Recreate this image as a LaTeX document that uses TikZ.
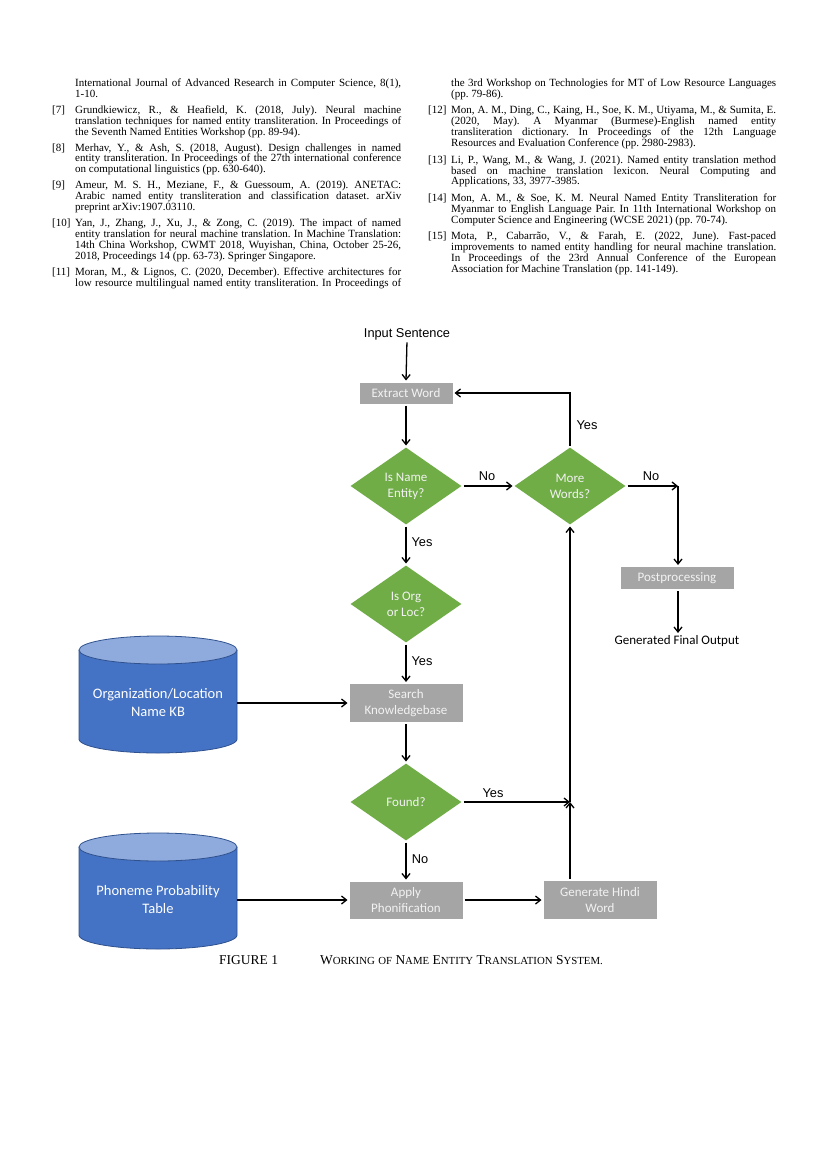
\documentclass[tikz,border=0pt]{standalone}
\usepackage{fontspec}
\setmainfont{Liberation Serif}
\newfontfamily\arialf{Liberation Sans}
\newfontfamily\calibf{Carlito}
\usetikzlibrary{shapes.geometric,arrows.meta}

\definecolor{procgray}{HTML}{A5A5A5}
\definecolor{boxtxt}{HTML}{F2F2F2}
\definecolor{decgreen}{HTML}{70AD47}
\definecolor{dbblue}{HTML}{4472C4}
\definecolor{dbtop}{HTML}{8FAADC}
\definecolor{dbedge}{HTML}{2F528F}

\newcommand\jlL[1]{\makebox[326pt][s]{#1}}
\newcommand\jlR[1]{\makebox[325pt][s]{#1}}
\newcommand\rlab[1]{\llap{\makebox[23pt][l]{#1}}}
\newcommand\smc[1]{{\fontsize{10.8}{12}\selectfont #1}}
\renewcommand\arraystretch{1}

\begin{document}
\begin{tikzpicture}[x=1pt,y=-1pt,
  refcol/.style={anchor=base west, inner sep=0, font=\fontsize{11}{10.9}\selectfont\frenchspacing},
  proc/.style={rectangle, fill=procgray, text=boxtxt, font=\calibf\fontsize{13}{15.5}\selectfont, align=center, inner sep=0, outer sep=2pt, minimum width=113pt},
  dec/.style={diamond, fill=decgreen, text=boxtxt, font=\calibf\fontsize{13}{16}\selectfont, align=center, inner sep=0, outer sep=1.5pt, minimum width=112pt, minimum height=78pt},
  dbtext/.style={font=\calibf\fontsize{14.5}{18}\selectfont, text=white, align=center, inner sep=0, outer sep=0, minimum width=158pt},
  lab/.style={font=\arialf\fontsize{12.8}{14}\selectfont, inner sep=0},
  arr/.style={-{Straight Barb[length=5pt,width=8pt]}, line width=1.3pt},
  dbbody/.style={fill=dbblue, draw=dbedge, line width=0.8pt},
  dbcap/.style={fill=dbtop, draw=dbedge, line width=0.8pt}]
\useasboundingbox[fill=white] (0,0) rectangle (827,1169);

% ---------------- reference columns ----------------
\node[refcol, font=\fontsize{11}{10.8}\selectfont\frenchspacing] (colL) at (75,86.5) {\begin{tabular}[t]{@{}l@{}}
\jlL{International Journal of Advanced Research in Computer Science, 8(1),}\\
1-10.\\[5pt]
\rlab{[7]}\jlL{Grundkiewicz, R., \& Heafield, K. (2018, July). Neural machine}\\
\jlL{translation techniques for named entity transliteration. In Proceedings of}\\
the Seventh Named Entities Workshop (pp. 89-94).\\[5pt]
\rlab{[8]}\jlL{Merhav, Y., \& Ash, S. (2018, August). Design challenges in named}\\
\jlL{entity transliteration. In Proceedings of the 27th international conference}\\
on computational linguistics (pp. 630-640).\\[5pt]
\rlab{[9]}\jlL{Ameur, M. S. H., Meziane, F., \& Guessoum, A. (2019). ANETAC:}\\
\jlL{Arabic named entity transliteration and classification dataset. arXiv}\\
preprint arXiv:1907.03110.\\[5pt]
\rlab{[10]}\jlL{Yan, J., Zhang, J., Xu, J., \& Zong, C. (2019). The impact of named}\\
\jlL{entity translation for neural machine translation. In Machine Translation:}\\
\jlL{14th China Workshop, CWMT 2018, Wuyishan, China, October 25-26,}\\
2018, Proceedings 14 (pp. 63-73). Springer Singapore.\\[5pt]
\rlab{[11]}\jlL{Moran, M., \& Lignos, C. (2020, December). Effective architectures for}\\
\jlL{low resource multilingual named entity transliteration. In Proceedings of}
\end{tabular}};

\node[refcol] (colR) at (451,86.5) {\begin{tabular}[t]{@{}l@{}}
\jlR{the 3rd Workshop on Technologies for MT of Low Resource Languages}\\
(pp. 79-86).\\[5.5pt]
\rlab{[12]}\jlR{Mon, A. M., Ding, C., Kaing, H., Soe, K. M., Utiyama, M., \& Sumita, E.}\\
\jlR{(2020, May). A Myanmar (Burmese)-English named entity}\\
\jlR{transliteration dictionary. In Proceedings of the 12th Language}\\
Resources and Evaluation Conference (pp. 2980-2983).\\[5.5pt]
\rlab{[13]}\jlR{Li, P., Wang, M., \& Wang, J. (2021). Named entity translation method}\\
\jlR{based on machine translation lexicon. Neural Computing and}\\
Applications, 33, 3977-3985.\\[5.5pt]
\rlab{[14]}\jlR{Mon, A. M., \& Soe, K. M. Neural Named Entity Transliteration for}\\
\jlR{Myanmar to English Language Pair. In 11th International Workshop on}\\
Computer Science and Engineering (WCSE 2021) (pp. 70-74).\\[5.5pt]
\rlab{[15]}\jlR{Mota, P., Cabarrão, V., \& Farah, E. (2022, June). Fast-paced}\\
\jlR{improvements to named entity handling for neural machine translation.}\\
\jlR{In Proceedings of the 23rd Annual Conference of the European}\\
Association for Machine Translation (pp. 141-149).
\end{tabular}};

% ---------------- cylinders ----------------
\path[dbbody] (79,650) -- plot[domain=180:0,samples=60] ({158+79*cos(\x)},{739+14*sin(\x)}) -- (237,650);
\path[dbcap] (158,650) ellipse [x radius=79, y radius=14];
\path[dbbody] (79,847) -- plot[domain=180:0,samples=60] ({158+79*cos(\x)},{935+14*sin(\x)}) -- (237,847);
\path[dbcap] (158,847) ellipse [x radius=79, y radius=14];

\node[dbtext] (kb) at (158,703) {Organization/Location\\Name KB};
\node[dbtext] (ppt) at (158,900) {Phoneme Probability\\Table};

% ---------------- flowchart nodes ----------------
\node[lab, anchor=base] (input) at (407,337.5) {Input Sentence};
\node[proc, minimum width=93pt, minimum height=21pt] (extract) at (406,393) {Extract Word};
\node[dec] (isname) at (406,486) {Is Name\\Entity?};
\node[dec] (more) at (570,486) {More\\Words?};
\node[proc, minimum height=22pt] (post) at (677,578) {Postprocessing};
\node[font=\calibf\fontsize{13}{15}\selectfont, anchor=base, inner sep=0, outer sep=2pt] (final) at (677,644) {Generated Final Output};
\node[dec] (isorg) at (406,604) {Is Org\\or Loc?};
\node[proc, minimum height=38pt] (search) at (406,703) {Search\\Knowledgebase};
\node[dec] (found) at (406,802) {Found?};
\node[proc, minimum height=37pt] (apply) at (406,900) {Apply\\Phonification};
\node[proc, minimum height=38pt] (gen) at (600,900) {Generate Hindi\\Word};

\coordinate (c1) at (678,486);
\coordinate (j) at (570,802);

% ---------------- connectors ----------------
\draw[arr, shorten <=2pt] (input.south) -- (extract.north);
\draw[arr] (extract.south) -- (isname.north);
\draw[arr] (isname.east) -- (more.west);
\draw[arr] (more.north) -- (more.north |- extract.east) -- (extract.east);
\draw[arr] (more.east) -- (c1);
\draw[arr] (c1) -- (c1 |- post.north);
\draw[arr] (post.south -| c1) -- (final.north -| c1);
\draw[arr] (isname.south) -- (isorg.north);
\draw[arr] (isorg.south) -- (search.north);
\draw[arr] (kb.east) -- (search.west);
\draw[arr] (search.south) -- (found.north);
\draw[arr] (found.east) -- (j);
\draw[arr] (found.south) -- (apply.north);
\draw[arr] (ppt.east) -- (apply.west);
\draw[arr] (apply.east) -- (gen.west);
\draw[arr] (gen.north -| j) -- (j);
\draw[arr] (j) -- (more.south);

% ---------------- connector labels ----------------
\node[lab] (lno1) at (487,476) {No};
\node[lab] (lno2) at (651,476) {No};
\node[lab] (lyes1) at (587,425) {Yes};
\node[lab] (lyes2) at (422,542) {Yes};
\node[lab] (lyes3) at (422,661) {Yes};
\node[lab] (lyes4) at (493,793) {Yes};
\node[lab] (lno3) at (420,859) {No};

% ---------------- caption ----------------
\node[anchor=base west, inner sep=0, font=\fontsize{13.5}{15}\selectfont] (cap1) at (219,964.5) {FIGURE 1};
\node[anchor=base west, inner sep=0, font=\fontsize{13.5}{15}\selectfont] (cap2) at (320,964.5) {W\smc{ORKING} \smc{OF} N\smc{AME} E\smc{NTITY} T\smc{RANSLATION} S\smc{YSTEM.}};
\end{tikzpicture}
\end{document}
